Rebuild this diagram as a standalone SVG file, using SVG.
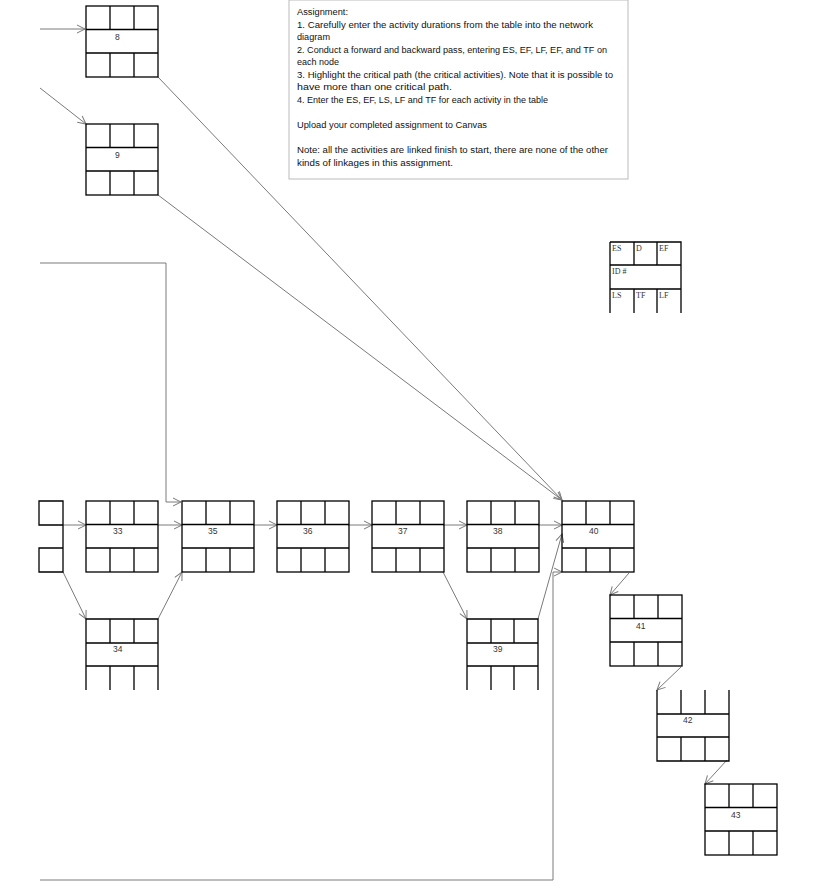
<svg xmlns="http://www.w3.org/2000/svg" width="834" height="896" viewBox="0 0 834 896">
<style>
.b{fill:none;stroke:#000;stroke-width:1.3}
.c{fill:none;stroke:#7a7a7a;stroke-width:1}
.id{font-family:"Liberation Sans",Arial,sans-serif;font-size:8.5px;fill:#333}
.t{font-family:"Liberation Sans",Arial,sans-serif;font-size:8.5px;fill:#111}
.lg{font-family:"Liberation Serif","Times New Roman",serif;font-size:8px;fill:#333}
</style>
<defs>
<marker id="a" markerWidth="10" markerHeight="10" refX="9" refY="5" orient="auto" markerUnits="userSpaceOnUse">
<path d="M1,1 L9,5 L1,9" fill="none" stroke="#7a7a7a" stroke-width="1"/>
</marker>
<g id="nd">
<rect class="b" x="0" y="0" width="72" height="71"/>
<path class="b" d="M0,23.5H72M0,47H72M24,0V23.5M48,0V23.5M24,47V71M48,47V71"/>
</g>
</defs>
<rect x="289" y="0" width="339" height="179" fill="#fff" stroke="#bbb" stroke-width="1"/>
<g class="t">
<text x="297" y="15" textLength="51" lengthAdjust="spacingAndGlyphs">Assignment:</text>
<text x="297" y="28" textLength="296" lengthAdjust="spacingAndGlyphs">1. Carefully enter the activity durations from the table into the network</text>
<text x="297" y="40" textLength="33" lengthAdjust="spacingAndGlyphs">diagram</text>
<text x="297" y="53" textLength="310" lengthAdjust="spacingAndGlyphs">2. Conduct a forward and backward pass, entering ES, EF, LF, EF, and TF on</text>
<text x="297" y="65" textLength="42" lengthAdjust="spacingAndGlyphs">each node</text>
<text x="297" y="78" textLength="316" lengthAdjust="spacingAndGlyphs">3. Highlight the critical path (the critical activities). Note that it is possible to</text>
<text x="297" y="90" textLength="155" lengthAdjust="spacingAndGlyphs">have more than one critical path.</text>
<text x="297" y="103" textLength="251" lengthAdjust="spacingAndGlyphs">4. Enter the ES, EF, LS, LF and TF for each activity in the table</text>
<text x="297" y="128" textLength="190" lengthAdjust="spacingAndGlyphs">Upload your completed assignment to Canvas</text>
<text x="297" y="153" textLength="311" lengthAdjust="spacingAndGlyphs">Note: all the activities are linked finish to start, there are none of the other</text>
<text x="297" y="166" textLength="156" lengthAdjust="spacingAndGlyphs">kinds of linkages in this assignment.</text>
</g>
<g id="connectors">
<path class="c" d="M40,29H85" marker-end="url(#a)"/>
<path class="c" d="M40,88L86,124" marker-end="url(#a)"/>
<path class="c" d="M158,77L562,500" marker-end="url(#a)"/>
<path class="c" d="M158,195L562,500" marker-end="url(#a)"/>
<path class="c" d="M40,263H166V502H181" marker-end="url(#a)"/>
<path class="c" d="M63,525H86" marker-end="url(#a)"/>
<path class="c" d="M158,525H182" marker-end="url(#a)"/>
<path class="c" d="M253,525H277" marker-end="url(#a)"/>
<path class="c" d="M348,525H372" marker-end="url(#a)"/>
<path class="c" d="M443,525H467" marker-end="url(#a)"/>
<path class="c" d="M538,525H562" marker-end="url(#a)"/>
<path class="c" d="M63,572L86,619" marker-end="url(#a)"/>
<path class="c" d="M158,619L182,572" marker-end="url(#a)"/>
<path class="c" d="M443,572L467,619" marker-end="url(#a)"/>
<path class="c" d="M538,619L562,534" marker-end="url(#a)"/>
<path class="c" d="M40,880H553V572H562" marker-end="url(#a)"/>
<path class="c" d="M629,573L610,595" marker-end="url(#a)"/>
<path class="c" d="M681,667L657,690" marker-end="url(#a)"/>
<path class="c" d="M727,760L705,784" marker-end="url(#a)"/>
</g>
<g id="n8"><use href="#nd" x="86" y="6"/><text class="id" x="115" y="40">8</text></g>
<g id="n9"><use href="#nd" x="86" y="124"/><text class="id" x="115" y="158">9</text></g>
<g id="legend">
<path class="b" d="M610,242H681V313M610,242V313M610,265H681M610,289H681M634,242V265M657,242V265M634,289V313M657,289V313"/>
<text class="lg" x="612" y="251">ES</text><text class="lg" x="636" y="251">D</text><text class="lg" x="659" y="251">EF</text>
<text class="lg" x="612" y="274">ID #</text>
<text class="lg" x="612" y="298">LS</text><text class="lg" x="636" y="298">TF</text><text class="lg" x="659" y="298">LF</text>
</g>
<g id="n32"><path class="b" d="M39,501H63V525H39ZM39,548H63V572H39ZM63,525V548"/></g>
<g id="n33"><use href="#nd" x="86" y="501"/><text class="id" x="113" y="534">33</text></g>
<g id="n35"><use href="#nd" x="182" y="501"/><text class="id" x="208" y="534">35</text></g>
<g id="n36"><use href="#nd" x="277" y="501"/><text class="id" x="303" y="534">36</text></g>
<g id="n37"><use href="#nd" x="372" y="501"/><text class="id" x="398" y="534">37</text></g>
<g id="n38"><use href="#nd" x="467" y="501"/><text class="id" x="493" y="534">38</text></g>
<g id="n40"><use href="#nd" x="562" y="501"/><text class="id" x="589" y="534">40</text></g>
<g id="n34"><path class="b" d="M86,690V619H158V690M86,643H158M86,666H158M110,619V643M134,619V643M110,666V690M134,666V690"/><text class="id" x="113" y="652">34</text></g>
<g id="n39"><path class="b" d="M467,690V619H538V690M467,643H538M467,666H538M491,619V643M514,619V643M491,666V690M514,666V690"/><text class="id" x="493" y="652">39</text></g>
<g id="n41"><use href="#nd" x="610" y="595"/><text class="id" x="636" y="629">41</text></g>
<g id="n42"><path class="b" d="M657,690V761H729V690M657,714H729M657,737H729M681,690V714M705,690V714M681,737V761M705,737V761"/><text class="id" x="683" y="723">42</text></g>
<g id="n43"><use href="#nd" x="705" y="784"/><text class="id" x="731" y="818">43</text></g>
</svg>
